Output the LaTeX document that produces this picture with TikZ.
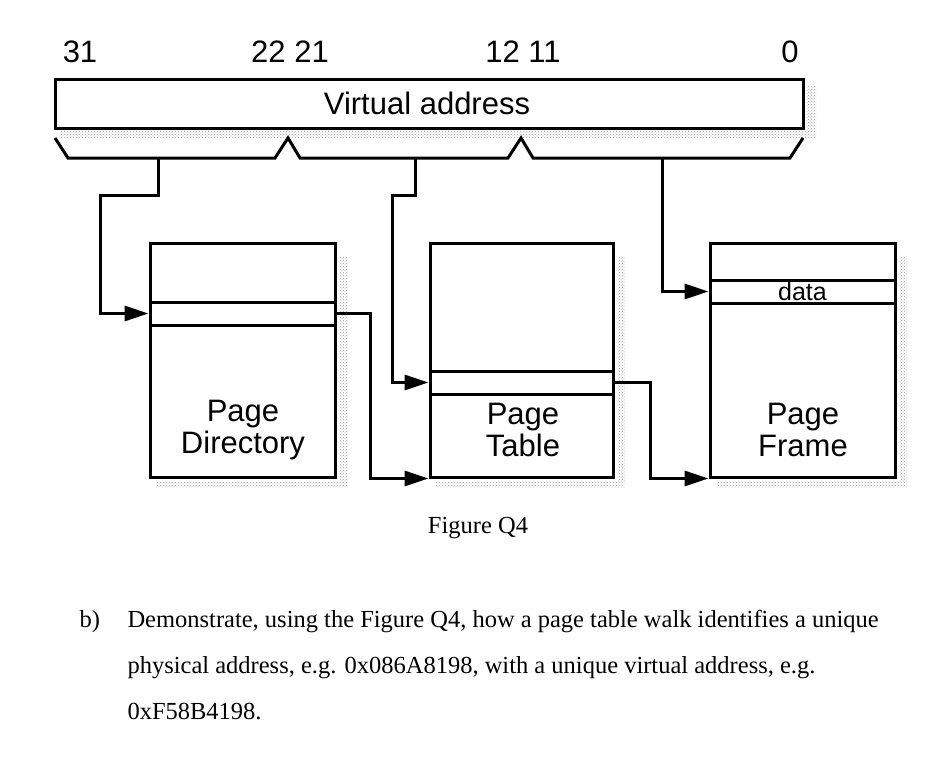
\documentclass[tikz,border=0pt]{standalone}
\usepackage{fontspec}
\setmainfont{Liberation Sans}
\newfontfamily\serif{Liberation Serif}
\usetikzlibrary{arrows.meta,patterns}
\begin{document}
\begin{tikzpicture}[x=1pt,y=-1pt,
  box/.style={draw,line width=3pt,fill=white},
  shade/.style={pattern=crosshatch dots,pattern color=gray!80},
  wire/.style={line width=3pt},
  arr/.style={wire,-{Triangle[length=24pt,width=15pt]}},
  lab/.style={font=\fontsize{31}{34}\selectfont,align=center},
  body/.style={font=\serif\fontsize{24.5}{28}\selectfont,anchor=west}]
\useasboundingbox (0,0) rectangle (932,760);
% shadows
\fill[shade] (806,86) rectangle (816,131);
\fill[shade] (60,131) rectangle (816,137);
\foreach \a/\b in {150/335,430/613,710/895}{
  \fill[shade] (\b+5,256) rectangle (\b+12,481);
  \fill[shade] (\a+6,481) rectangle (\b+12,487);
}
\node[box,minimum width=748pt,minimum height=48pt,inner sep=0pt] (va) at (429,104) {};
\node[lab] (vat) at (427,103) {Virtual address};
\node[lab] (b31) at (80,52) {31};
\node[lab] (b22) at (290,52) {22 21};
\node[lab] (b12) at (523,52) {12 11};
\node[lab] (b0) at (790,52) {0};
% braces
\draw[wire,line join=miter] (55,138) -- (68,158) -- (275,158) -- (288,138) -- (300,158) -- (508,158) -- (521,138) -- (533,158) -- (790,158) -- (803,138);
\coordinate (t1) at (158,158); \coordinate (t2) at (415,158); \coordinate (t3) at (662,158);
% boxes
\node[box,minimum width=185pt,minimum height=234pt,inner sep=0pt] (pd) at (242.5,360) {};
\node[box,minimum width=183pt,minimum height=234pt,inner sep=0pt] (pt) at (521.5,360) {};
\node[box,minimum width=185pt,minimum height=234pt,inner sep=0pt] (pf) at (802.5,360) {};
\node[box,minimum width=185pt,minimum height=23pt,inner sep=0pt] (pde) at (242.5,313.5) {};
\node[box,minimum width=183pt,minimum height=23pt,inner sep=0pt] (pte) at (521.5,382.5) {};
\node[box,minimum width=185pt,minimum height=23pt,inner sep=0pt,font=\fontsize{25}{25}\selectfont] (pfe) at (802.5,291.5) {\raisebox{1pt}{data}};
\node[lab,font=\fontsize{31}{32}\selectfont] (pdt) at (243,430) {Page\\Directory};
\node[lab,font=\fontsize{31}{32}\selectfont] (ptt) at (523,430) {Page\\Table};
\node[lab,font=\fontsize{31}{32}\selectfont] (pft) at (803,430) {Page\\Frame};
% connectors
\draw[arr] (t1) -- (158,195) -- (100,195) |- (pde.west);
\draw[arr] (t2) -- (415,195) -- (392,195) |- (pte.west);
\draw[arr] (t3) |- (pfe.west);
\draw[arr] (pde.east) -- (370,313.5) |- (pt.south west);
\draw[arr] (pte.east) -- (650,382.5) |- (pf.south west);
\node[font=\serif\fontsize{24.5}{28}\selectfont] (fig) at (478,528) {Figure Q4};
\node[body] (bl) at (76,622) {b)};
\node[body] (l1) at (124,622) {Demonstrate, using the Figure Q4, how a page table walk identifies a unique};
\node[body] (l2) at (124,668) {physical address, e.g. 0x086A8198, with a unique virtual address, e.g.};
\node[body] (l3) at (124,712) {0xF58B4198.};
\end{tikzpicture}
\end{document}
